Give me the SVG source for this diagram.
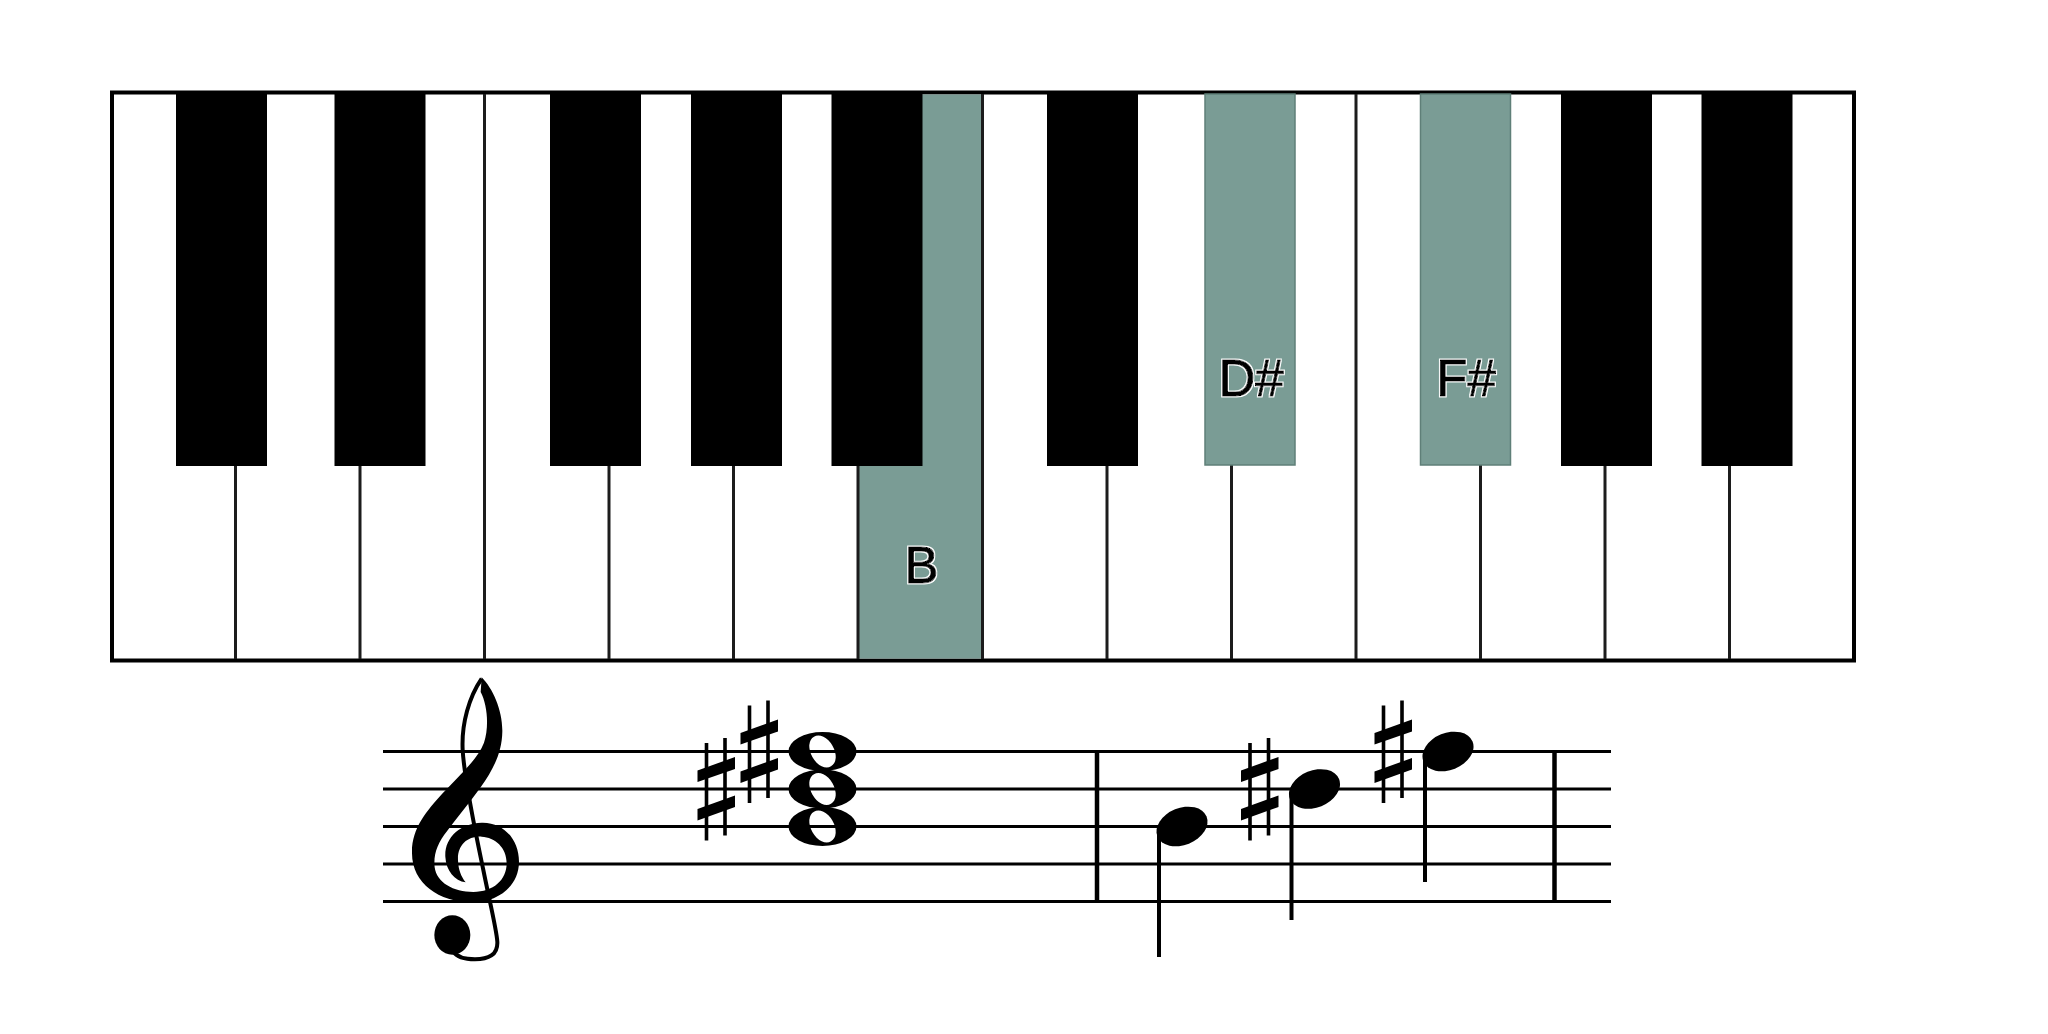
<svg xmlns="http://www.w3.org/2000/svg" width="2048" height="1034" viewBox="0 0 2048 1034">
<style>
.blk{fill:#000}
.teal{fill:#7a9c95}
.tealk{fill:#7a9c95;stroke:#5f7f78;stroke-width:1.5}
.kl{stroke:#1c1c1c;stroke-width:3}
.lbl{font-family:"Liberation Sans",Arial,sans-serif;font-size:51px;fill:#000;stroke:#000;stroke-width:1;text-anchor:middle;filter:url(#halo)}
.sl{stroke:#000;stroke-width:3}
.bar{stroke:#000;stroke-width:4.5}
.stem{stroke:#000;stroke-width:4}
</style>
<defs>
<filter id="halo" x="-20%" y="-20%" width="140%" height="140%">
<feMorphology in="SourceAlpha" operator="dilate" radius="1.3" result="d"/>
<feFlood flood-color="#fff"/>
<feComposite in2="d" operator="in" result="w"/>
<feMerge><feMergeNode in="w"/><feMergeNode in="SourceGraphic"/></feMerge>
</filter>
<g id="sharp">
<rect x="-11.3" y="-46" width="3.6" height="97.5"/>
<rect x="7.2" y="-51" width="3.6" height="97.5"/>
<polygon points="-18.5,-18.5 19,-32 19,-20 -18.5,-7"/>
<polygon points="-18.5,20 19,6.5 19,18 -18.5,31.5"/>
</g>
<path id="whole" fill-rule="evenodd" d="M-34,0 A34,19.5 0 1,0 34,0 A34,19.5 0 1,0 -34,0 Z M-8.5,-14.7 A17,11 60 1,0 8.5,14.7 A17,11 60 1,0 -8.5,-14.7 Z"/>
<ellipse id="head" cx="0" cy="0" rx="26.5" ry="18.5" transform="rotate(-22)"/>
</defs>
<rect width="2048" height="1034" fill="#fff"/>
<g id="keyboard">
<rect x="112" y="92.5" width="1742" height="568" fill="#fff" stroke="#000" stroke-width="4"/>
<rect id="key-B" class="teal" x="858" y="94.5" width="124.5" height="564"/>
<g id="white-key-lines">
<line class="kl" x1="235.5" y1="94" x2="235.5" y2="659"/>
<line class="kl" x1="360" y1="94" x2="360" y2="659"/>
<line class="kl" x1="484.5" y1="94" x2="484.5" y2="659"/>
<line class="kl" x1="609" y1="94" x2="609" y2="659"/>
<line class="kl" x1="733.5" y1="94" x2="733.5" y2="659"/>
<line class="kl" x1="858" y1="94" x2="858" y2="659"/>
<line class="kl" x1="982.5" y1="94" x2="982.5" y2="659"/>
<line class="kl" x1="1107" y1="94" x2="1107" y2="659"/>
<line class="kl" x1="1231.5" y1="94" x2="1231.5" y2="659"/>
<line class="kl" x1="1356" y1="94" x2="1356" y2="659"/>
<line class="kl" x1="1480.5" y1="94" x2="1480.5" y2="659"/>
<line class="kl" x1="1605" y1="94" x2="1605" y2="659"/>
<line class="kl" x1="1729.5" y1="94" x2="1729.5" y2="659"/>
</g>
<g id="black-keys">
<rect class="blk" x="176" y="94" width="91" height="372"/>
<rect class="blk" x="334.5" y="94" width="91" height="372"/>
<rect class="blk" x="550" y="94" width="91" height="372"/>
<rect class="blk" x="691" y="94" width="91" height="372"/>
<rect class="blk" x="831.5" y="94" width="91" height="372"/>
<rect class="blk" x="1047" y="94" width="91" height="372"/>
<rect id="key-Dsharp" class="tealk" x="1205" y="94" width="90" height="371"/>
<rect id="key-Fsharp" class="tealk" x="1420.5" y="94" width="90" height="371"/>
<rect class="blk" x="1561" y="94" width="91" height="372"/>
<rect class="blk" x="1701.5" y="94" width="91" height="372"/>
</g>
<g id="labels">
<text class="lbl" x="921.5" y="583">B</text>
<text class="lbl" x="1251" y="396">D#</text>
<text class="lbl" x="1466" y="396">F#</text>
</g>
</g>
<g id="staff">
<line class="sl" x1="383" y1="751.5" x2="1611" y2="751.5"/>
<line class="sl" x1="383" y1="789" x2="1611" y2="789"/>
<line class="sl" x1="383" y1="826.5" x2="1611" y2="826.5"/>
<line class="sl" x1="383" y1="864" x2="1611" y2="864"/>
<line class="sl" x1="383" y1="901.5" x2="1611" y2="901.5"/>
<line class="bar" x1="1097" y1="751.5" x2="1097" y2="901.5"/>
<line class="bar" x1="1554.5" y1="751.5" x2="1554.5" y2="901.5"/>
</g>
<g id="treble-clef" transform="translate(400,670) scale(0.3333)">
<path fill="#000" d="M245,22 C278,55 308,120 307,185 C306,248 280,298 242,352 C207,400 172,442 142,482 C112,520 100,552 104,592 C110,638 160,666 220,666 C280,666 320,630 320,580 C320,532 285,502 245,500 C202,498 172,526 174,570 C175,600 184,620 197,637 C164,632 138,602 136,560 C133,503 180,460 245,458 C312,456 357,510 357,575 C357,647 296,697 215,697 C118,697 36,641 36,550 C34,476 80,423 128,370 C178,316 232,270 252,218 C268,170 262,104 242,66 Z"/>
<path fill="none" stroke="#000" stroke-width="12" d="M245,26 C208,80 184,160 188,240 C193,330 225,480 250,600 C268,690 290,780 292,815 C294,855 265,868 225,868 C195,868 170,860 160,845"/>
<ellipse cx="157" cy="795" rx="54" ry="59"/>
</g>
<g id="chord">
<use href="#sharp" x="716" y="789"/>
<use href="#sharp" x="759" y="751.5"/>
<use href="#whole" x="822.5" y="751.5"/>
<use href="#whole" x="822.5" y="789"/>
<use href="#whole" x="822.5" y="826.5"/>
</g>
<g id="melody">
<use href="#head" x="1182" y="826.5"/>
<line class="stem" x1="1159" y1="830" x2="1159" y2="957"/>
<use href="#sharp" x="1259.5" y="789"/>
<use href="#head" x="1314.5" y="789"/>
<line class="stem" x1="1291.5" y1="792" x2="1291.5" y2="920"/>
<use href="#sharp" x="1393" y="751.5"/>
<use href="#head" x="1448" y="751.5"/>
<line class="stem" x1="1425" y1="755" x2="1425" y2="882"/>
</g>
</svg>
